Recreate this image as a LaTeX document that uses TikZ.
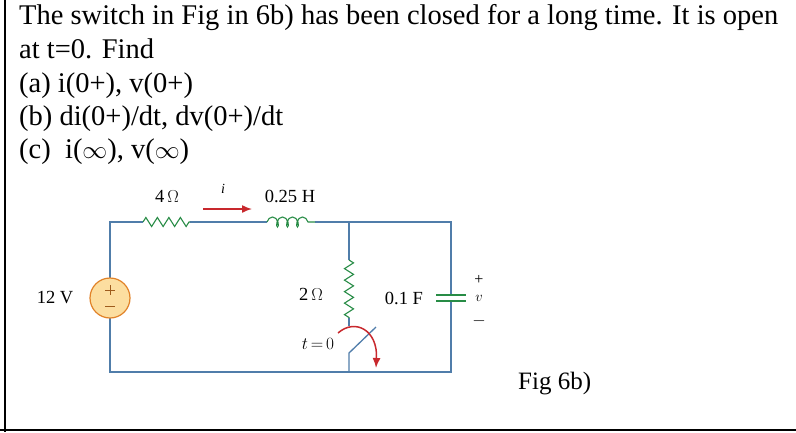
\documentclass[tikz,border=0pt]{standalone}
\usepackage{fontspec}
\setmainfont{Liberation Serif}
\usetikzlibrary{decorations.pathmorphing,arrows.meta}
\definecolor{wire}{RGB}{80,125,170}
\definecolor{comp}{RGB}{40,140,70}
\definecolor{arr}{RGB}{200,40,45}
\definecolor{srcf}{RGB}{252,222,160}
\definecolor{srcd}{RGB}{225,130,40}
\tikzset{
  wirest/.style={draw=wire,line width=1.3pt},
  res/.style={draw=comp,line width=1.1pt,decorate,decoration={zigzag,segment length=11.5pt,amplitude=4.5pt}},
  ind/.style={draw=comp,line width=1.1pt,decorate,decoration={coil,aspect=0.6,segment length=10pt,amplitude=5pt}},
  lbl/.style={font=\fontsize{18.5}{18.5}\selectfont,inner sep=0pt},
  txt/.style={font=\fontsize{28.5}{28.5}\selectfont,anchor=base west,inner sep=0pt},
  curarrow/.style={draw=arr,line width=1.5pt,-{Latex[length=10pt,width=8pt]}}
}
\begin{document}
\begin{tikzpicture}[x=1pt,y=-1pt]
\useasboundingbox (0,0) rectangle (796,432);
\fill[white] (0,0) rectangle (796,432);
\draw[line width=2.5pt] (5,0) -- (5,432);
\draw[line width=2pt] (0,430) -- (796,430);
\node[txt] (l1) at (19,24) {The switch in Fig in 6b) has been closed for a long time. It is open};
\node[txt] (l2) at (19,58) {at t=0. Find};
\node[txt] (l3) at (19,92) {(a) i(0+), v(0+)};
\node[txt] (l4) at (19,125) {(b) di(0+)/dt, dv(0+)/dt};
\node[txt] (l5) at (19,158) {(c)\ \ i($\infty$), v($\infty$)};
\node[txt,font=\fontsize{25}{25}\selectfont] (fig) at (518,389) {Fig 6b)};
% coordinates
\coordinate (tl) at (110,222);
\coordinate (bl) at (110,372);
\coordinate (r1a) at (143,222);
\coordinate (r1b) at (190,222);
\coordinate (la) at (267,222);
\coordinate (lb) at (315,222);
\coordinate (tm) at (349,222);
\coordinate (tr) at (451,222);
\coordinate (br) at (451,372);
\coordinate (bm) at (349,372);
\coordinate (r2a) at (349,260);
\coordinate (r2b) at (349,318);
\coordinate (sw1) at (349,326);
\coordinate (sw2) at (349,353);
\coordinate (swe) at (376,327);
\coordinate (c1) at (451,295);
\coordinate (c2) at (451,301);
% wires
\draw[wirest] (r1a) -- (tl) -- (bl) -- (br) -- (c2);
\draw[wirest] (c1) -- (tr) -- (lb);
\draw[wirest] (r1b) -- (la);
\draw[wirest] (tm) -- (r2a);
\draw[wirest] (r2b) -- (sw1);
\draw[wirest] (bm) -- (sw2) -- (swe);
% components
\draw[res] (r1a) -- (r1b);
\draw[ind] (la) -- (lb);
\draw[res] (r2a) -- (r2b);
\draw[draw=comp,line width=1.4pt] (436,295) -- (466,295) (436,301) -- (466,301);
\node[circle,draw=srcd,fill=srcf,line width=1.2pt,minimum size=40pt,inner sep=0pt] (src) at (110,298) {};
\draw[srcd!70!black,line width=0.9pt] (105,290) -- (115,290) (110,285) -- (110,295) (105,306) -- (115,306);
% arrows
\coordinate (ia) at (203,209);
\coordinate (ib) at (252,209);
\draw[curarrow] (ia) -- (ib);
\coordinate (sa) at (338,333);
\coordinate (sb) at (376,368);
\draw[curarrow] (sa) .. controls (355,318) and (378,330) .. (sb);
% labels
\node[lbl] (l4o) at (167,196) {4\,$\Omega$};
\node[lbl,font=\itshape\fontsize{14}{14}\selectfont] (li) at (223,189) {i};
\node[lbl] (lL) at (290,196) {0.25 H};
\node[lbl] (l2o) at (311,294) {2\,$\Omega$};
\node[lbl] (lC) at (404,298) {0.1 F};
\node[lbl] (l12) at (55,298) {12 V};
\node[lbl] (lt) at (318,344) {$t\,{=}\,0$};
\node[lbl,font=\fontsize{16}{16}\selectfont] (lp) at (479,280) {+};
\node[lbl,font=\fontsize{15}{15}\selectfont] (lv) at (479,298) {$v$};
\node[lbl,font=\fontsize{16}{16}\selectfont] (lm) at (479,321) {$-$};
\end{tikzpicture}
\end{document}
